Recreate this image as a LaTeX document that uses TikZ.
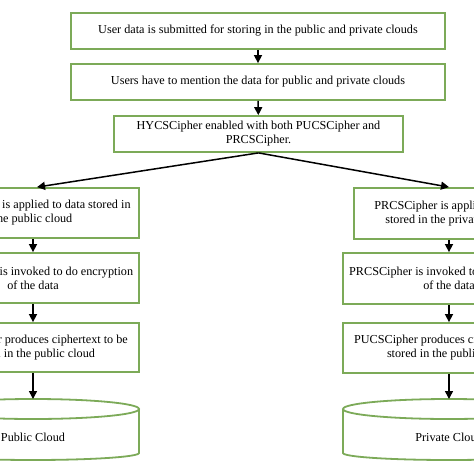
\documentclass[tikz,border=0pt]{standalone}
\usepackage{fontspec}
\setmainfont{Liberation Serif}
\usetikzlibrary{arrows.meta}
\definecolor{boxgreen}{RGB}{124,170,88}
\tikzset{
  box/.style={draw=boxgreen, line width=1.8pt, fill=white, inner sep=0pt, align=center,
    font=\fontsize{12.2}{14}\selectfont, text=black},
  lbl/.style={inner sep=0pt, font=\fontsize{12.2}{14}\selectfont, text=black},
  cyl/.style={draw=boxgreen, line width=1.8pt},
  arr/.style={draw=black, line width=1.5pt, -{Triangle[length=8pt,width=8pt]}}
}
\begin{document}
\begin{tikzpicture}[x=1pt,y=-1pt]
\useasboundingbox (0,0) rectangle (474,474);
\fill[white] (0,0) rectangle (474,474);
\clip (0,0) rectangle (474,474);
% top boxes
\node[box, minimum width=374pt, minimum height=36pt] (b1) at (258,31) {User data is submitted for storing in the public and private clouds};
\node[box, minimum width=374pt, minimum height=36pt] (b2) at (258,82) {Users have to mention the data for public and private clouds};
\node[box, minimum width=289pt, minimum height=36pt] (b3) at (258.5,134) {HYCSCipher enabled with both PUCSCipher and\\PRCSCipher.};
% left column
\node[box, minimum width=212pt, minimum height=50pt] (l1) at (33,213) {PUCSCipher is applied to data stored in\\the public cloud};
\node[box, minimum width=212pt, minimum height=50pt] (l2) at (33,278) {PUCSCipher is invoked to do encryption\\of the data};
\node[box, minimum width=212pt, minimum height=49pt] (l3) at (33,347.5) {PUCSCipher produces ciphertext to be\\stored in the public cloud};
% right column
\node[box, minimum width=190pt, minimum height=51pt] (r1) at (449,213.5) {PRCSCipher is applied to data\\stored in the private cloud};
\node[box, minimum width=212pt, minimum height=51pt] (r2) at (449,278.5) {PRCSCipher is invoked to do encryption\\of the data};
\node[box, minimum width=212pt, minimum height=50pt] (r3) at (449,348) {PUCSCipher produces ciphertext to be\\stored in the public cloud};
% cylinders
\draw[cyl] (-73,409) -- (-73,453) arc[start angle=180, end angle=360, x radius=106pt, y radius=7pt] -- (139,409);
\draw[cyl] (33,409) ellipse [x radius=106pt, y radius=10pt];
\coordinate (lc) at (33,399);
\node[lbl] (lct) at (33,437) {Public Cloud};
\draw[cyl] (343,409) -- (343,453) arc[start angle=180, end angle=360, x radius=106pt, y radius=7pt] -- (555,409);
\draw[cyl] (449,409) ellipse [x radius=106pt, y radius=10pt];
\coordinate (rc) at (449,399);
\node[lbl] (rct) at (449,437) {Private Cloud};
% arrows
\draw[arr] (b1) -- (b2);
\draw[arr] (b2) -- (b3);
\draw[arr] (b3.south) -- ([xshift=4pt]l1.north);
\draw[arr] (b3.south) -- (r1.north);
\draw[arr] (l1) -- (l2);
\draw[arr] (l2) -- (l3);
\draw[arr] (l3) -- (lc);
\draw[arr] (r1) -- (r2);
\draw[arr] (r2) -- (r3);
\draw[arr] (r3) -- (rc);
\end{tikzpicture}
\end{document}
